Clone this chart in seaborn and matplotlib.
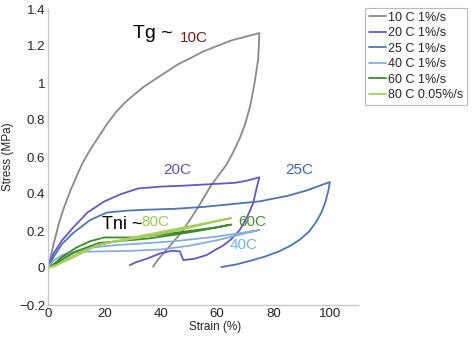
import numpy as np
import pandas as pd
import matplotlib
matplotlib.use("Agg")
import matplotlib.pyplot as plt
import seaborn as sns

# strain (%) / stress (MPa) loops, loading then unloading
strain_10 = [0, 2, 4, 6, 8, 10, 12, 15, 18, 21, 24, 27, 30, 34, 38, 42, 46, 50, 55, 60, 65, 70, 75,
             74.6, 73.3, 71.8, 70, 68, 65.5, 63.4, 60.5, 58, 53.3, 48, 42, 39, 37.3]
stress_10 = [0, 0.13, 0.25, 0.34, 0.42, 0.49, 0.56, 0.64, 0.71, 0.78, 0.84, 0.89, 0.93, 0.98, 1.02, 1.06, 1.10, 1.13, 1.17, 1.20, 1.23, 1.25, 1.27,
             1.13, 1.0, 0.88, 0.78, 0.70, 0.62, 0.56, 0.50, 0.45, 0.33, 0.205, 0.097, 0.045, 0.007]

strain_20 = [0, 2, 5, 9, 14, 20, 26, 32, 40, 48, 54, 60, 66, 70, 75,
             74, 72.8, 70.5, 68, 65, 62, 59, 56.3, 52, 48, 47.3, 46.8, 44, 40, 35, 31, 29]
stress_20 = [0, 0.08, 0.15, 0.22, 0.30, 0.36, 0.40, 0.43, 0.44, 0.445, 0.45, 0.455, 0.46, 0.47, 0.49,
             0.43, 0.35, 0.27, 0.205, 0.155, 0.12, 0.095, 0.07, 0.05, 0.043, 0.07, 0.09, 0.093, 0.08, 0.05, 0.03, 0.015]

strain_25 = [0, 2, 5, 9, 15, 21, 28, 35, 45, 55, 65, 75, 85, 92, 100,
             99.5, 98.5, 97, 95, 92.5, 89.5, 86, 82, 77, 72, 67, 61.5]
stress_25 = [0, 0.06, 0.13, 0.19, 0.26, 0.30, 0.31, 0.315, 0.32, 0.33, 0.345, 0.36, 0.39, 0.42, 0.465,
             0.42, 0.36, 0.30, 0.245, 0.195, 0.155, 0.12, 0.09, 0.062, 0.04, 0.02, 0.005]

strain_40 = [0, 2, 5, 8, 12, 20, 30, 40, 50, 60, 68, 75,
             60, 45, 36, 25, 15, 8, 3, 0]
stress_40 = [0, 0.04, 0.07, 0.083, 0.088, 0.09, 0.093, 0.10, 0.12, 0.15, 0.18, 0.205,
             0.17, 0.145, 0.135, 0.125, 0.11, 0.08, 0.03, 0]

strain_60 = [0, 2, 5, 10, 15, 20, 30, 40, 50, 60, 65,
             55, 45, 36, 25, 18, 10, 5, 2, 0]
stress_60 = [0, 0.02, 0.06, 0.11, 0.145, 0.165, 0.165, 0.18, 0.20, 0.22, 0.235,
             0.205, 0.18, 0.16, 0.145, 0.135, 0.09, 0.045, 0.015, 0]

strain_80 = [0, 2, 5, 8, 12, 17, 22, 30, 40, 50, 60, 65,
             55, 45, 35, 25, 18, 12, 7, 3, 0]
stress_80 = [0, 0.01, 0.03, 0.05, 0.08, 0.12, 0.14, 0.165, 0.195, 0.225, 0.255, 0.27,
             0.235, 0.20, 0.17, 0.145, 0.125, 0.09, 0.05, 0.015, 0]

labels = ["10 C 1%/s", "20 C 1%/s", "25 C 1%/s", "40 C 1%/s", "60 C 1%/s", "80 C 0.05%/s"]
colors = ["#8c8790", "#6656c8", "#4f74b3", "#85aedb", "#3f8a2c", "#a9cd5c"]

sns.set_theme(style="white")
plt.rcParams["font.family"] = ["Liberation Sans", "DejaVu Sans"]

fig = plt.figure(figsize=(4.73, 3.37), dpi=100)
ax = fig.add_axes([48 / 473, 1 - 305 / 337, 310 / 473, 296 / 337])

series = [(strain_10, stress_10), (strain_20, stress_20), (strain_25, stress_25),
          (strain_40, stress_40), (strain_60, stress_60), (strain_80, stress_80)]
for (sx, sy), lab, col in zip(series, labels, colors):
    sns.lineplot(x=sx, y=sy, sort=False, estimator=None, color=col, lw=1.3, label=lab, ax=ax)

ax.set_xlim(0, 110)
ax.set_ylim(-0.2, 1.4)
ax.set_xticks([0, 20, 40, 60, 80, 100])
ax.set_yticks([-0.2, 0, 0.2, 0.4, 0.6, 0.8, 1, 1.2, 1.4])
ax.set_yticklabels(["\u22120.2", "0", "0.2", "0.4", "0.6", "0.8", "1", "1.2", "1.4"])
ax.tick_params(direction="in", length=3, color="#bbbbbb", labelsize=9.5, pad=2)
for side in ["top", "right"]:
    ax.spines[side].set_visible(False)
for side in ["left", "bottom"]:
    ax.spines[side].set_color("#c8c8c8")
    ax.spines[side].set_linewidth(1.0)

ax.set_xlabel("Strain (%)", fontsize=8.5, labelpad=1)
ax.set_ylabel("Stress (MPa)", fontsize=8.5, labelpad=4)
ax.xaxis.set_label_coords(0.54, -0.055)

# annotations
ax.text(30.1, 1.27, "Tg ~", fontsize=14, color="black", va="center")
ax.text(46.8, 1.245, "10C", fontsize=11, color="#6e1c1c", va="center")
ax.text(45.8, 0.53, "20C", fontsize=11, color="#6a4cb8", ha="center", va="center")
ax.text(89, 0.53, "25C", fontsize=11, color="#4065b0", ha="center", va="center")
ax.text(19.1, 0.235, "Tni ~", fontsize=13, color="black", va="center")
ax.text(33.3, 0.25, "80C", fontsize=11, color="#9cc858", va="center")
ax.text(67.4, 0.25, "60C", fontsize=11, color="#4a8a30", va="center")
ax.text(64.5, 0.125, "40C", fontsize=11, color="#7ab0e8", va="center")

ax.legend_.remove()
handles, labs = ax.get_legend_handles_labels()
leg = fig.legend(handles, labs, loc="upper left", bbox_to_anchor=(365 / 473, 1 - 8 / 337),
                 fontsize=9, frameon=True, fancybox=False, handlelength=1.4, handletextpad=0.15,
                 labelspacing=0.28, borderpad=0.3, borderaxespad=0)
leg.get_frame().set_edgecolor("#aaaaaa")
leg.get_frame().set_linewidth(0.8)

fig.savefig("out.png", dpi=100)
